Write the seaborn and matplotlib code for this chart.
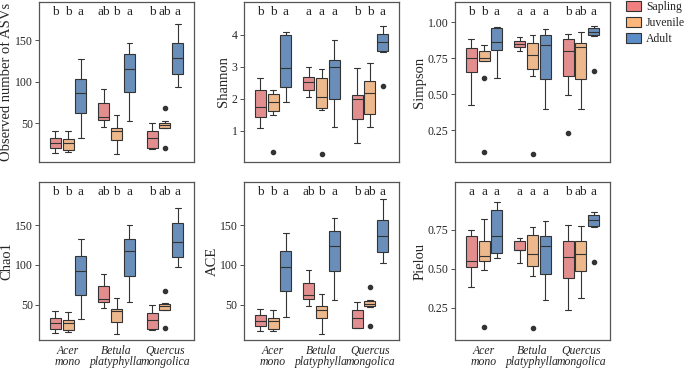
import numpy as np
import pandas as pd
import seaborn as sns
import matplotlib.pyplot as plt
from matplotlib.patches import Patch

# categories
species = ["Acer mono", "Betula platyphylla", "Quercus mongolica"]
species_labels = ["Acer\nmono", "Betula\nplatyphylla", "Quercus\nmongolica"]
stages = ["Sapling", "Juvenile", "Adult"]
colors = ["#F08080", "#FDB77B", "#5B8DC8"]

# values per box, order: Acer (Sap, Juv, Adult), Betula (...), Quercus (...)
observed = [
    [15, 18, 21, 24, 27, 30, 33, 37, 41],
    [16, 17, 18, 22, 26, 28, 31, 36, 41],
    [33, 50, 63, 75, 86, 95, 103, 115, 127],
    [46, 50, 54, 56, 58, 66, 75, 83, 91],
    [13, 22, 30, 36, 41, 43, 45, 52, 60],
    [53, 70, 88, 100, 115, 125, 133, 140, 147],
    [19, 19.5, 20, 26, 32, 36, 41, 45, 50],
    [21, 44, 45, 46, 48, 50, 51, 53, 68],
    [94, 102, 110, 120, 129, 138, 147, 158, 170],
]
shannon = [
    [1.10, 1.27, 1.44, 1.60, 1.75, 2.02, 2.29, 2.46, 2.64],
    [0.34, 1.49, 1.63, 1.78, 1.91, 2.03, 2.15, 2.22, 2.29],
    [1.91, 2.15, 2.38, 2.65, 2.95, 3.50, 4.01, 4.05, 4.09],
    [2.06, 2.18, 2.29, 2.42, 2.53, 2.61, 2.69, 2.85, 3.00],
    [0.26, 1.65, 1.70, 1.88, 2.06, 2.35, 2.64, 2.80, 2.93],
    [1.12, 1.56, 2.00, 2.50, 3.01, 3.11, 3.21, 3.53, 3.85],
    [0.62, 1.00, 1.37, 1.68, 1.98, 2.05, 2.11, 2.53, 2.95],
    [1.12, 1.31, 1.51, 1.85, 2.19, 2.38, 2.56, 2.84, 3.12],
    [2.41, 3.47, 3.49, 3.63, 3.77, 3.90, 4.02, 4.15, 4.27],
]
simpson = [
    [0.424, 0.54, 0.655, 0.70, 0.748, 0.785, 0.822, 0.855, 0.887],
    [0.097, 0.613, 0.73, 0.74, 0.748, 0.775, 0.80, 0.82, 0.84],
    [0.613, 0.71, 0.81, 0.835, 0.863, 0.91, 0.963, 0.965, 0.968],
    [0.80, 0.815, 0.829, 0.84, 0.852, 0.861, 0.87, 0.884, 0.898],
    [0.083, 0.625, 0.678, 0.73, 0.775, 0.82, 0.859, 0.885, 0.91],
    [0.40, 0.50, 0.602, 0.72, 0.845, 0.88, 0.914, 0.935, 0.956],
    [0.227, 0.493, 0.625, 0.71, 0.799, 0.85, 0.885, 0.905, 0.921],
    [0.40, 0.50, 0.602, 0.72, 0.829, 0.843, 0.857, 0.895, 0.933],
    [0.66, 0.903, 0.91, 0.92, 0.935, 0.948, 0.96, 0.966, 0.972],
]
chao1 = [
    [15, 17, 20, 24, 27, 30, 34, 38, 42],
    [16, 17, 19, 23, 27, 29, 31.5, 36, 40.5],
    [32, 48, 62, 80, 93, 102, 111, 122, 133],
    [46, 50, 53, 55, 57, 65, 74, 82, 89],
    [13, 21, 29, 36, 42, 44, 45, 52, 59],
    [53, 70, 86, 102, 117, 125, 132, 141, 150],
    [19, 19.5, 20, 25, 31, 35, 40, 45, 50],
    [21, 44, 44, 46, 48, 50, 51, 52, 67],
    [97, 104, 110, 120, 129, 141, 153, 162, 171],
]
ace = [
    [17, 20, 23, 27, 30, 33, 37, 41, 45],
    [17, 18, 20, 25, 30, 32, 34, 39, 44],
    [35, 51, 67, 84, 98, 108, 117, 128, 140],
    [49, 53, 57.5, 60, 62, 70, 78, 86, 94],
    [14, 24, 33, 39, 44, 47, 49, 56, 64],
    [56, 74, 92, 108, 124, 134, 142.5, 151, 159],
    [21, 21.2, 21.5, 28, 34, 38, 43, 48, 53],
    [23, 47.5, 48, 49.5, 51, 53, 55, 56, 72],
    [103, 110, 116, 126, 136, 146, 157, 170, 183],
]
pielou = [
    [0.385, 0.45, 0.512, 0.53, 0.55, 0.63, 0.708, 0.73, 0.75],
    [0.128, 0.49, 0.55, 0.565, 0.581, 0.63, 0.676, 0.75, 0.82],
    [0.566, 0.585, 0.602, 0.65, 0.708, 0.79, 0.877, 0.90, 0.925],
    [0.539, 0.58, 0.617, 0.62, 0.623, 0.65, 0.676, 0.69, 0.70],
    [0.121, 0.455, 0.518, 0.555, 0.592, 0.655, 0.718, 0.745, 0.77],
    [0.30, 0.38, 0.469, 0.56, 0.645, 0.675, 0.708, 0.76, 0.807],
    [0.233, 0.33, 0.438, 0.51, 0.575, 0.63, 0.68, 0.73, 0.78],
    [0.313, 0.40, 0.486, 0.54, 0.596, 0.64, 0.68, 0.73, 0.777],
    [0.545, 0.769, 0.771, 0.79, 0.813, 0.83, 0.845, 0.855, 0.866],
]

# significance letters
letters_obs = ["b", "b", "a", "ab", "b", "a", "b", "ab", "a"]
letters_shannon = ["b", "b", "a", "a", "a", "a", "b", "b", "a"]
letters_simpson = ["b", "b", "a", "a", "a", "a", "b", "ab", "a"]
letters_chao1 = ["b", "b", "a", "ab", "b", "a", "b", "ab", "a"]
letters_ace = ["b", "b", "a", "ab", "b", "a", "b", "ab", "a"]
letters_pielou = ["a", "a", "a", "a", "a", "a", "b", "ab", "a"]

panels = [
    ("Observed number of ASVs", observed, letters_obs, (3.6, 196), [50, 100, 150], ["50", "100", "150"]),
    ("Shannon", shannon, letters_shannon, (0.02, 5.03), [1, 2, 3, 4], ["1", "2", "3", "4"]),
    ("Simpson", simpson, letters_simpson, (0.028, 1.141), [0.25, 0.5, 0.75, 1.0], ["0.25", "0.50", "0.75", "1.00"]),
    ("Chao1", chao1, letters_chao1, (6, 204), [50, 100, 150], ["50", "100", "150"]),
    ("ACE", ace, letters_ace, (6, 204), [50, 100, 150], ["50", "100", "150"]),
    ("Pielou", pielou, letters_pielou, (0.043, 1.056), [0.25, 0.5, 0.75], ["0.25", "0.50", "0.75"]),
]

sns.set_style("white")
plt.rcParams["font.family"] = ["Liberation Serif", "DejaVu Serif"]

fig = plt.figure(figsize=(6.85, 3.70), dpi=100)
lefts = [39 / 685, 244 / 685, 455 / 685]
bottoms = [1 - 162 / 370, 1 - 340 / 370]
w = 155 / 685
heights = [160 / 370, 158 / 370]

offsets = [-0.8 / 3, 0, 0.8 / 3]

for k, (label, vals, lets, ylim, ticks, ticklabels) in enumerate(panels):
    row, col = divmod(k, 3)
    ax = fig.add_axes([lefts[col], bottoms[row], w, heights[row]])
    rows = []
    for i, sp in enumerate(species):
        for j, st in enumerate(stages):
            for v in vals[i * 3 + j]:
                rows.append((sp, st, v))
    df = pd.DataFrame(rows, columns=["species", "stage", "value"])
    sns.boxplot(data=df, x="species", y="value", hue="stage",
                order=species, hue_order=stages, palette=colors,
                width=0.8, gap=0.15, linecolor="#333333", linewidth=0.8,
                fliersize=3,
                flierprops=dict(marker="o", markerfacecolor="#333333",
                                markeredgecolor="#333333"),
                legend=False, ax=ax)
    ax.set_xlim(-0.6, 2.6)
    ax.set_ylim(*ylim)
    ax.set_yticks(ticks)
    ax.set_yticklabels(ticklabels, fontsize=8.5)
    ax.set_ylabel(label, fontsize=10.5, labelpad=1)
    ax.set_xlabel("")
    for i in range(3):
        for j in range(3):
            ax.text(i + offsets[j], 0.935, lets[i * 3 + j], transform=ax.get_xaxis_transform(),
                    ha="center", va="center", fontsize=9.5)
    if row == 1:
        ax.set_xticks(range(3))
        ax.set_xticklabels(species_labels, fontsize=8.5, style="italic", linespacing=0.95)
        ax.tick_params(axis="x", length=2.5, width=0.6, color="#333333", pad=1)
    else:
        ax.set_xticks(range(3))
        ax.set_xticklabels([])
        ax.tick_params(axis="x", length=0)
    ax.tick_params(axis="y", length=3, width=0.6, color="#333333", pad=1.5, left=True)
    for s in ax.spines.values():
        s.set_color("#555555")
        s.set_linewidth(0.9)

handles = [Patch(facecolor=c, edgecolor="#333333", linewidth=0.8, label=s) for c, s in zip(colors, stages)]
fig.legend(handles=handles, loc="upper left", bbox_to_anchor=(621 / 685, 1.01), frameon=False,
           fontsize=8.5, handlelength=1.3, handleheight=0.9, labelspacing=0.35, handletextpad=0.4,
           borderaxespad=0)

fig.savefig("out.png", dpi=100)
